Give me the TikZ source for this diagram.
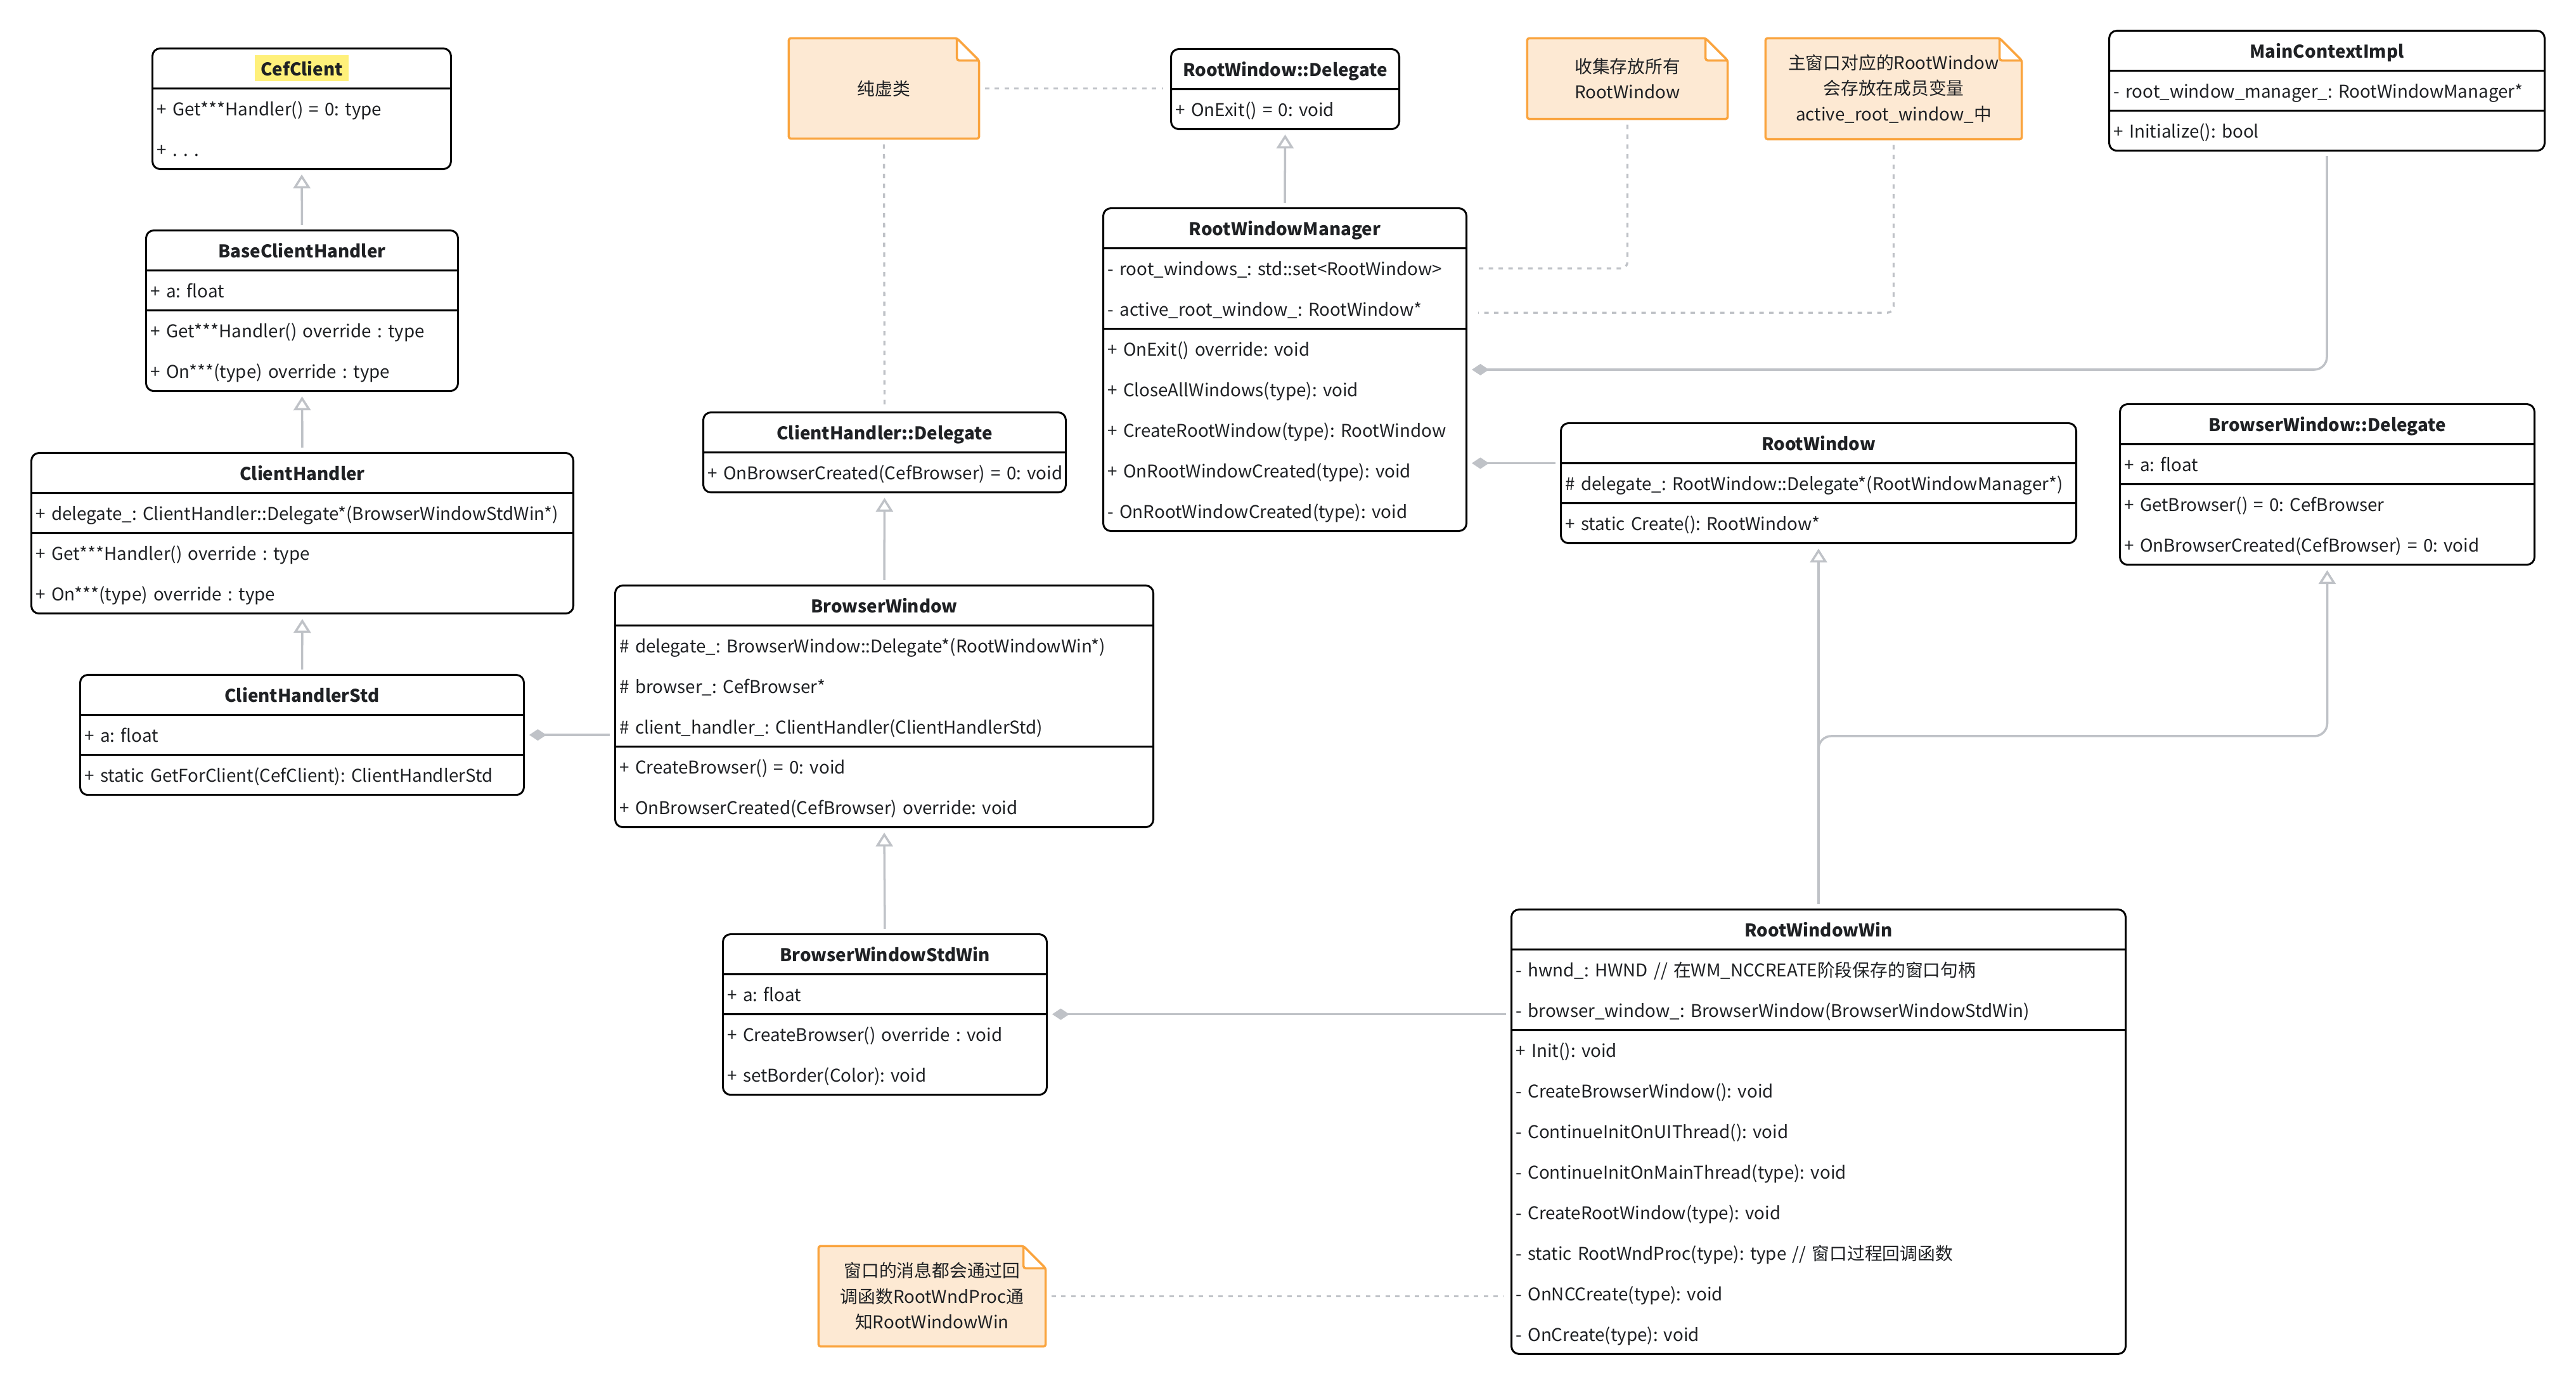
\documentclass[tikz,border=0pt]{standalone}
\usepackage{fontspec}
\setmainfont{Noto Sans CJK SC}
\usetikzlibrary{arrows.meta,positioning,calc,backgrounds,shapes.multipart}
\definecolor{linegray}{HTML}{BFC2C7}
\definecolor{noteorange}{HTML}{FAA43E}
\definecolor{notefill}{HTML}{FDE9D3}
\definecolor{hiyellow}{HTML}{FFF07A}
\definecolor{textdark}{HTML}{1F2124}
\frenchspacing
\newcommand{\rowfont}{\fontsize{7.9pt}{18.2pt}\selectfont}
\newcommand{\notefont}{\fontsize{7.9pt}{11.6pt}\selectfont}
\newcommand{\rowstrut}{\rule[-5.85pt]{0pt}{18.1pt}}
\newcommand{\cname}[1]{\centering\bfseries\rowstrut#1\par}
\newcommand{\cmem}[1]{\rowstrut\mbox{#1}\par}
\tikzset{
  % klassen
  cls/.style={rectangle split,rectangle split parts=#1,draw=black,fill=white,
              line width=0.85pt,rounded corners=0.12cm,inner xsep=0.07cm,
              inner ysep=-0.5pt,anchor=north west,align=left,font=\rowfont,
              text=textdark},
  cls/.default=3,
  % notizen
  note/.style={inner sep=0pt,align=center,font=\notefont,text=textdark},
  notebox/.style={draw=noteorange,fill=notefill,line width=1pt,rounded corners=1pt},
  % verbindungen
  gen/.style={-{Triangle[open,length=2.2mm,width=2.7mm]},draw=linegray,
              line width=1pt,shorten >=0.07cm,shorten <=0.07cm},
  comp/.style={-{Diamond[length=2.7mm,width=1.8mm]},draw=linegray,
               line width=1pt,shorten >=0.07cm,shorten <=0.07cm},
  nlink/.style={draw=linegray,line width=0.95pt,dash pattern=on 0.07cm off 0.085cm,
                shorten >=0.11cm,shorten <=0.09cm},
}

\begin{document}
\begin{tikzpicture}
\useasboundingbox (0,0) rectangle (40.64,21.86);
  % client handler chain
  \node[cls=2,text width=4.57cm] (cef) at (2.39,21.11)
    {\cname{{\fboxsep=2.5pt\colorbox{hiyellow}{CefClient}}}
     \nodepart{two}\cmem{+ Get***Handler() = 0: type}\cmem{+ . . .}};
  \node[cls,text width=4.78cm] (bch) at (2.29,18.24)
    {\cname{BaseClientHandler}
     \nodepart{two}\cmem{+ a: float}
     \nodepart{three}\cmem{+ Get***Handler() override : type}\cmem{+ On***(type) override : type}};
  \node[cls,text width=8.41cm] (ch) at (0.48,14.73)
    {\cname{ClientHandler}
     \nodepart{two}\cmem{+ delegate\_: ClientHandler::Delegate*(BrowserWindowStdWin*)}
     \nodepart{three}\cmem{+ Get***Handler() override : type}\cmem{+ On***(type) override : type}};
  \node[cls,text width=6.86cm] (chs) at (1.25,11.23)
    {\cname{ClientHandlerStd}
     \nodepart{two}\cmem{+ a: float}
     \nodepart{three}\cmem{+ static GetForClient(CefClient): ClientHandlerStd}};
  % browser window
  \node[cls=2,text width=5.58cm] (chd) at (11.08,15.37)
    {\cname{ClientHandler::Delegate}
     \nodepart{two}\cmem{+ OnBrowserCreated(CefBrowser) = 0: void}};
  \node[cls,text width=8.35cm] (bw) at (9.69,12.64)
    {\cname{BrowserWindow}
     \nodepart{two}\cmem{\# delegate\_: BrowserWindow::Delegate*(RootWindowWin*)}
       \cmem{\# browser\_: CefBrowser*}\cmem{\# client\_handler\_: ClientHandler(ClientHandlerStd)}
     \nodepart{three}\cmem{+ CreateBrowser() = 0: void}\cmem{+ OnBrowserCreated(CefBrowser) override: void}};
  \node[cls,text width=4.97cm] (bwsw) at (11.39,7.14)
    {\cname{BrowserWindowStdWin}
     \nodepart{two}\cmem{+ a: float}
     \nodepart{three}\cmem{+ CreateBrowser() override : void}\cmem{+ setBorder(Color): void}};
  % root windows
  \node[cls=2,text width=3.46cm] (rwd) at (18.46,21.10)
    {\cname{RootWindow::Delegate}
     \nodepart{two}\cmem{+ OnExit() = 0: void}};
  \node[cls,text width=5.59cm] (rwm) at (17.39,18.59)
    {\cname{RootWindowManager}
     \nodepart{two}\cmem{- root\_windows\_: std::set<RootWindow>}\cmem{- active\_root\_window\_: RootWindow*}
     \nodepart{three}\cmem{+ OnExit() override: void}\cmem{+ CloseAllWindows(type): void}
       \cmem{+ CreateRootWindow(type): RootWindow}\cmem{+ OnRootWindowCreated(type): void}
       \cmem{- OnRootWindowCreated(type): void}};
  \node[cls,text width=6.73cm] (mci) at (33.26,21.39)
    {\cname{MainContextImpl}
     \nodepart{two}\cmem{- root\_window\_manager\_: RootWindowManager*}
     \nodepart{three}\cmem{+ Initialize(): bool}};
  \node[cls,text width=7.99cm] (rwin) at (24.61,15.20)
    {\cname{RootWindow}
     \nodepart{two}\cmem{\# delegate\_: RootWindow::Delegate*(RootWindowManager*)}
     \nodepart{three}\cmem{+ static Create(): RootWindow*}};
  \node[cls,text width=6.40cm] (bwd) at (33.43,15.50)
    {\cname{BrowserWindow::Delegate}
     \nodepart{two}\cmem{+ a: float}
     \nodepart{three}\cmem{+ GetBrowser() = 0: CefBrowser}\cmem{+ OnBrowserCreated(CefBrowser) = 0: void}};
  \node[cls,text width=9.55cm] (rww) at (23.83,7.53)
    {\cname{RootWindowWin}
     \nodepart{two}\cmem{- hwnd\_: HWND // 在WM\_NCCREATE阶段保存的窗口句柄}
       \cmem{- browser\_window\_: BrowserWindow(BrowserWindowStdWin)}
     \nodepart{three}\cmem{+ Init(): void}\cmem{- CreateBrowserWindow(): void}
       \cmem{- ContinueInitOnUIThread(): void}\cmem{- ContinueInitOnMainThread(type): void}
       \cmem{- CreateRootWindow(type): void}\cmem{- static RootWndProc(type): type // 窗口过程回调函数}
       \cmem{- OnNCCreate(type): void}\cmem{- OnCreate(type): void}};
  % notizen
  \node[note,minimum width=2.99cm,minimum height=1.57cm] (pv) at (13.945,20.465) {纯虚类};
  \node[note,minimum width=3.15cm,minimum height=1.26cm] (coll) at (25.675,20.62)
    {收集存放所有\\RootWindow};
  \node[note,minimum width=4.03cm,minimum height=1.58cm] (act) at (29.875,20.46)
    {主窗口对应的RootWindow\\会存放在成员变量\\active\_root\_window\_中};
  \node[note,minimum width=3.57cm,minimum height=1.57cm] (msg) at (14.705,1.415)
    {窗口的消息都会通过回\\调函数RootWndProc通\\知RootWindowWin};
  \begin{scope}[on background layer]
    \foreach \n in {pv,coll,act,msg}
      \filldraw[notebox] (\n.south west) -- (\n.north west) -- ([xshift=-0.35cm]\n.north east)
        -- ([yshift=-0.35cm]\n.north east) -- (\n.south east) -- cycle
        ([xshift=-0.35cm]\n.north east) |- ([yshift=-0.35cm]\n.north east);
  \end{scope}
  % generalisierung
  \draw[gen] (bch.north) -- (cef.south);
  \draw[gen] (ch.north) -- (bch.south);
  \draw[gen] (chs.north) -- (ch.south);
  \draw[gen] (rwm.north) -- (rwd.south);
  \draw[gen] (bw.north) -- (chd.south);
  \draw[gen] (bwsw.north) -- (bw.south);
  \draw[gen] (rww.north) -- (rwin.south);
  \coordinate (fork) at ($(rww.north)+(0,2.72)$);
  \draw[gen,rounded corners=0.2cm] (rww.north) -- (fork) -| (bwd.south);
  % komposition
  \coordinate (chsA) at ($(chs.text split east)!.5!(chs.two split east)$);
  \draw[comp] (bw.west |- chsA) -- (chsA);
  \draw[comp,rounded corners=0.2cm] (mci.south) |- (rwm.east);
  \draw[comp] (rwin.text split west) -- (rwm.east |- rwin.text split west);
  \draw[comp] (rww.west |- bwsw.two split east) -- (bwsw.two split east);
  % notiz-links
  \coordinate (rwmA) at ($(rwm.text split east)!.25!(rwm.two split east)$);
  \coordinate (rwmB) at ($(rwm.text split east)!.8!(rwm.two split east)$);
  \draw[nlink] (pv.east) -- (rwd.west |- pv.east);
  \draw[nlink] (pv.south) -- (chd.north);
  \draw[nlink,rounded corners=0.1cm,shorten >=0.17cm] (coll.south) |- (rwmA);
  \draw[nlink,rounded corners=0.1cm,shorten >=0.17cm] (act.south) |- (rwmB);
  \draw[nlink] (msg.east) -- (rww.west |- msg.east);
\end{tikzpicture}
\end{document}
